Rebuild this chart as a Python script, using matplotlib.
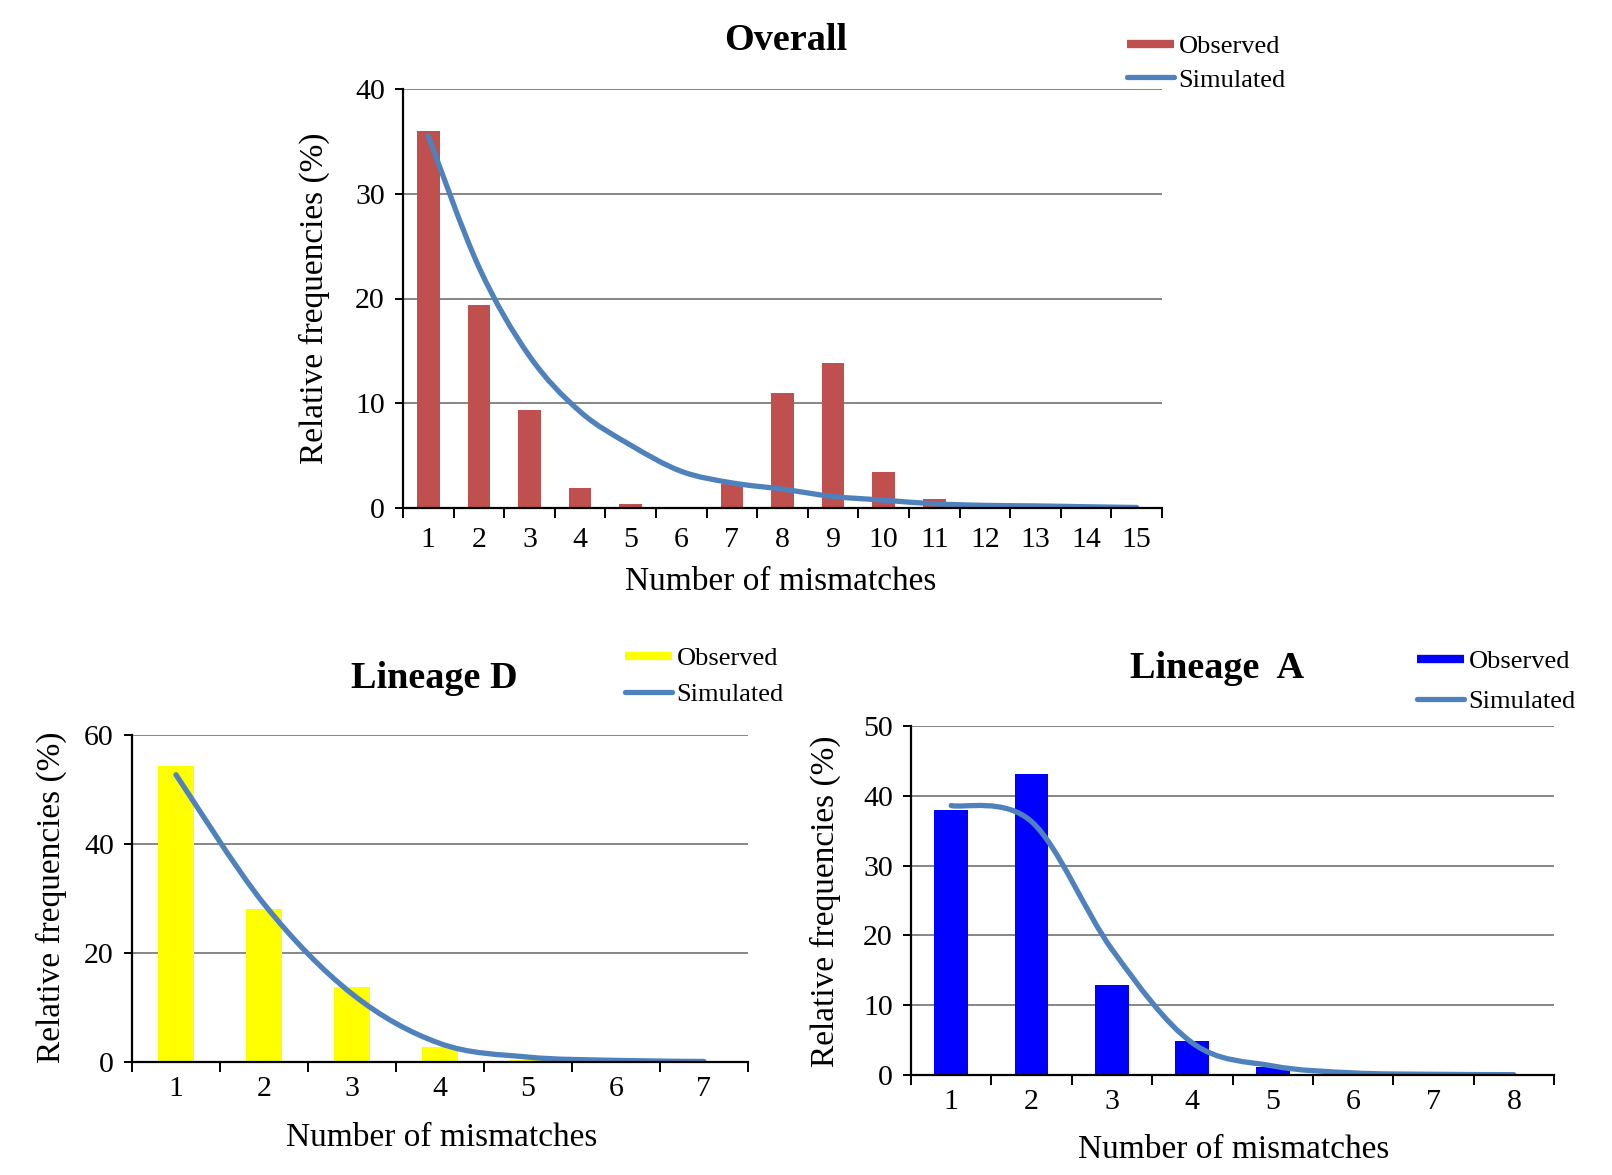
import numpy as np
import matplotlib
matplotlib.use('Agg')
import matplotlib.pyplot as plt
from matplotlib.path import Path
from matplotlib.patches import PathPatch
from matplotlib.lines import Line2D

# ---------------- data ----------------
overall_x = list(range(1, 16))
overall_obs = [36.0, 19.4, 9.4, 1.9, 0.4, 0.0, 2.3, 11.0, 13.8, 3.4, 0.9, 0.0, 0.0, 0.0, 0.0]
overall_sim = [35.5, 23.0, 14.5, 9.2, 6.0, 3.5, 2.4, 1.8, 1.1, 0.75, 0.4, 0.25, 0.2, 0.12, 0.05]

linD_x = list(range(1, 8))
linD_obs = [54.4, 28.0, 13.8, 2.8, 0.3, 0.0, 0.0]
linD_sim = [52.7, 29.0, 12.5, 3.4, 0.9, 0.3, 0.1]

linA_x = list(range(1, 9))
linA_obs = [37.9, 43.1, 12.9, 4.9, 1.2, 0.0, 0.0, 0.0]
linA_sim = [38.6, 36.3, 18.0, 4.6, 1.3, 0.3, 0.1, 0.05]

titles = ["Overall", "Lineage D", "Lineage  A"]
legend_labels = ["Observed", "Simulated"]
xlabel = "Number of mismatches"
ylabel = "Relative frequencies (%)"

# ---------------- style ----------------
plt.rcParams['font.family'] = ['Liberation Serif', 'DejaVu Serif']
W, H = 1612, 1175
DPI = 100
SIM_COLOR = '#4F81BD'
GRID_COLOR = '#868686'
TICK_FS = 21.5
LABEL_FS = 24
TITLE_FS = 27.5
LEG_FS = 19

fig = plt.figure(figsize=(W / DPI, H / DPI), dpi=DPI)


def smooth_path(x, y):
    pts = np.column_stack([x, y]).astype(float)
    n = len(pts)
    verts = [pts[0]]
    codes = [Path.MOVETO]
    for i in range(n - 1):
        p_prev = pts[i - 1] if i > 0 else pts[i]
        p0 = pts[i]
        p1 = pts[i + 1]
        p_next = pts[i + 2] if i + 2 < n else pts[i + 1]
        c1 = p0 + (p1 - p_prev) / 6.0
        c2 = p1 - (p_next - p0) / 6.0
        verts += [c1, c2, p1]
        codes += [Path.CURVE4] * 3
    return Path(verts, codes)


def px_axes(left, top, right, bottom):
    return fig.add_axes([left / W, 1 - bottom / H, (right - left) / W, (bottom - top) / H])


def setup(ax, x, obs, sim, color, bw, ymax, ystep, xpad):
    n = len(x)
    ax.bar(x, obs, width=bw, color=color, zorder=2)
    ax.add_patch(PathPatch(smooth_path(x, sim), fill=False, edgecolor=SIM_COLOR,
                           lw=3.8, capstyle='round', joinstyle='round', zorder=3))
    ax.set_xlim(0.5, n + 0.5)
    ax.set_ylim(0, ymax)
    ax.set_yticks(np.arange(0, ymax + 0.1, ystep))
    ax.yaxis.grid(True, color=GRID_COLOR, lw=1.4)
    ax.set_axisbelow(True)
    ax.set_xticks(x)
    ax.set_xticks(np.arange(0.5, n + 1.0, 1.0), minor=True)
    ax.tick_params(axis='x', which='major', length=0, pad=xpad, labelsize=TICK_FS)
    ax.tick_params(axis='x', which='minor', length=7, width=1.4, direction='out', color='black')
    ax.tick_params(axis='y', length=6, width=1.4, pad=7, labelsize=TICK_FS)
    for s in ['top', 'right']:
        ax.spines[s].set_visible(False)
    for s in ['left', 'bottom']:
        ax.spines[s].set_linewidth(1.6)
        ax.spines[s].set_color('black')
        ax.spines[s].set_zorder(4)


def add_legend(x_px, y_px, color, spacing):
    handles = [Line2D([], [], color=color, lw=6, solid_capstyle='butt'),
               Line2D([], [], color=SIM_COLOR, lw=3.8, solid_capstyle='round')]
    fig.legend(handles, legend_labels, loc='upper left',
               bbox_to_anchor=(x_px / W, 1 - y_px / H), bbox_transform=fig.transFigure,
               frameon=False, borderpad=0, borderaxespad=0, handlelength=1.78,
               handletextpad=0.18, labelspacing=spacing, fontsize=LEG_FS)


def ftext(x_px, y_px, s, **kw):
    fig.text(x_px / W, 1 - y_px / H, s, ha='center', va='center', **kw)


# Overall
ax1 = px_axes(403, 89, 1162, 508)
setup(ax1, overall_x, overall_obs, overall_sim, '#C0504D', 0.45, 40, 10, 14)
ftext(786, 41, titles[0], fontsize=TITLE_FS, fontweight='bold')
ftext(781, 582, xlabel, fontsize=LABEL_FS)
ftext(314, 298, ylabel, fontsize=LABEL_FS, rotation=90)
add_legend(1127, 35, '#C0504D', 0.37)

# Lineage D
ax2 = px_axes(132, 735, 748, 1062)
setup(ax2, linD_x, linD_obs, linD_sim, '#FFFF00', 0.40, 60, 20, 10)
ftext(434, 679, titles[1], fontsize=TITLE_FS, fontweight='bold')
ftext(442, 1138, xlabel, fontsize=LABEL_FS)
ftext(51, 897, ylabel, fontsize=LABEL_FS, rotation=90)
add_legend(625, 647, '#FFFF00', 0.45)

# Lineage A
ax3 = px_axes(911, 726, 1554, 1075)
setup(ax3, linA_x, linA_obs, linA_sim, '#0000FF', 0.42, 50, 10, 10)
ftext(1217, 668, titles[2], fontsize=TITLE_FS, fontweight='bold')
ftext(1234, 1150, xlabel, fontsize=LABEL_FS)
ftext(825, 901, ylabel, fontsize=LABEL_FS, rotation=90)
add_legend(1417, 650, '#0000FF', 0.6)

fig.savefig('out.png', dpi=DPI, facecolor='white')
